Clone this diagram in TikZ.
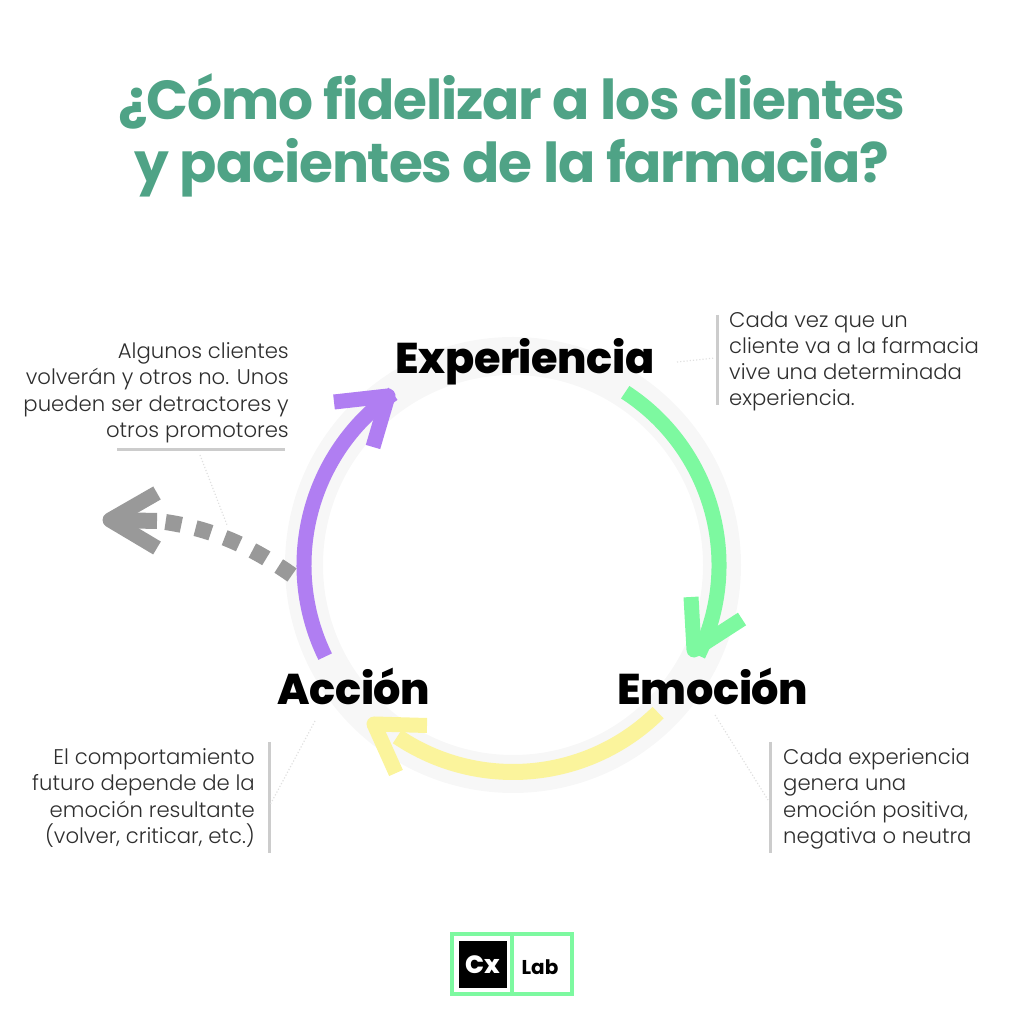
\documentclass[tikz,border=0pt]{standalone}
\usepackage{fontspec}
\setmainfont{Poppins}
\newfontfamily\thinfont{Poppins Light}
\newfontfamily\heavyfont{Poppins ExtraBold}
\definecolor{titlegreen}{HTML}{4FA386}
\definecolor{cxgreen}{HTML}{7DF9A0}
\definecolor{cxpurple}{HTML}{B07EF2}
\definecolor{cxyellow}{HTML}{FBF49C}
\definecolor{cxgrey}{HTML}{999999}
\definecolor{ringgrey}{HTML}{F7F7F7}
\definecolor{bargrey}{HTML}{CCCCCC}
\definecolor{bodygrey}{HTML}{2E2E2E}

\begin{document}
\begin{tikzpicture}[x=1pt,y=1pt,
        title node/.style={inner sep=0,align=center,text=titlegreen,font=\bfseries\addfontfeature{LetterSpace=-2.2}\fontsize{55}{63}\selectfont},
        stage node/.style={inner sep=0,font=\heavyfont\addfontfeature{LetterSpace=-1}\fontsize{43}{48}\selectfont},
        note node/.style={inner sep=0,text=bodygrey,font=\thinfont\fontsize{21.2}{26.2}\selectfont},
        stage arrow/.style={line width=15pt},
        stage head/.style={line width=15pt,line join=round},
        side bar/.style={bargrey,line width=3pt},
        leader/.style={bargrey!60,line width=1.2pt,dotted}]

        \useasboundingbox (0,0) rectangle (1024,1024);
        \coordinate (center) at (513,459);

        \node[title node] (title) at (512,889) {¿Cómo fidelizar a los clientes\\y pacientes de la farmacia?};

        % ring behind the arrows
        \draw[ringgrey,line width=38pt] (center) circle (209);

        % stages
        \coordinate (gbarbA) at (691,427);
        \coordinate (gtip) at (694,374);
        \coordinate (gbarbB) at (742,405);
        \draw[stage arrow,cxgreen] (center) ++(57:206) arc[start angle=57,end angle=-26,radius=206];
        \draw[stage head,cxgreen] (gbarbA) -- (gtip) -- (gbarbB);

        \coordinate (ybarbA) at (427,298.5);
        \coordinate (ytip) at (374,300);
        \coordinate (ybarbB) at (396,251);
        \draw[stage arrow,line width=16pt,cxyellow] (center) ++(-45.5:207) arc[start angle=-45.5,end angle=-124,radius=207];
        \draw[stage head,cxyellow] (ybarbA) -- (ytip) -- (ybarbB);

        \coordinate (pbarbA) at (334,622);
        \coordinate (ptip) at (388,628);
        \coordinate (pbarbB) at (373,577);
        \draw[stage arrow,cxpurple] (center) ++(206:209) arc[start angle=206,end angle=125,radius=209];
        \draw[stage head,cxpurple] (pbarbA) -- (ptip) -- (pbarbB);

        % way out
        \coordinate (outA) at (292,449);
        \coordinate (outB) at (158,503);
        \coordinate (hbarbA) at (157,531);
        \coordinate (htip) at (110,504);
        \coordinate (hbarbB) at (157,476);
        \draw[cxgrey,line width=16pt,dash pattern=on 16pt off 14.6pt] (outA) .. controls (245,482) and (205,497) .. (outB);
        \draw[cxgrey,line width=16pt] (157,503) -- (htip);
        \draw[stage head,cxgrey] (hbarbA) -- (htip) -- (hbarbB);

        \node[stage node] (experiencia) at (525,662) {Experiencia};
        \node[stage node] (accion) at (354,338) {Acción};
        \node[stage node] (emocion) at (713,338) {Emoción};

        % notes
        \node[note node,anchor=north west,align=left] (noteA) at (729,712.5) {Cada vez que un\\cliente va a la farmacia\\vive una determinada\\experiencia.};
        \node[note node,anchor=north east,align=right] (noteB) at (289,681.5) {Algunos clientes\\volverán y otros no. Unos\\pueden ser detractores y\\otros promotores};
        \node[note node,anchor=north east,align=right] (noteC) at (255,275.5) {El comportamiento\\futuro depende de la\\emoción resultante\\(volver, criticar, etc.)};
        \node[note node,anchor=north west,align=left] (noteD) at (783,275.5) {Cada experiencia\\genera una\\emoción positiva,\\negativa o neutra};

        \coordinate (barAt) at (717,709);
        \coordinate (barAb) at (717,619);
        \coordinate (barBl) at (117,574);
        \coordinate (barBr) at (285,574);
        \coordinate (barCt) at (269,282);
        \coordinate (barCb) at (269,171);
        \coordinate (barDt) at (770,282);
        \coordinate (barDb) at (770,171);
        \draw[side bar] (barAt) -- (barAb);
        \draw[side bar] (barBl) -- (barBr);
        \draw[side bar] (barCt) -- (barCb);
        \draw[side bar] (barDt) -- (barDb);

        \coordinate (leadA) at (677,662);
        \coordinate (leadAend) at (715,666);
        \coordinate (leadB) at (200,569);
        \coordinate (leadBend) at (227,499);
        \coordinate (leadC) at (315,303);
        \coordinate (leadCend) at (270,219);
        \coordinate (leadD) at (715,309);
        \coordinate (leadDend) at (768,224);
        \draw[leader] (leadA) -- (leadAend);
        \draw[leader] (leadB) -- (leadBend);
        \draw[leader] (leadC) -- (leadCend);
        \draw[leader] (leadD) -- (leadDend);

        % logo
        \node[draw=cxgreen,line width=4pt,minimum width=60pt,minimum height=60pt,inner sep=0] (lab) at (542,59.5) {};
        \node[draw=cxgreen,line width=4pt,minimum width=60pt,minimum height=60pt,inner sep=0] (cx) at (481.5,59.5) {};
        \node[fill=black,text=white,minimum width=48pt,minimum height=47pt,inner sep=0,font=\heavyfont\fontsize{25}{28}\selectfont] (cxbox) at (482.5,59.5) {Cx};
        \node[inner sep=0,font=\bfseries\fontsize{20}{22}\selectfont] (labtext) at (540,56.5) {Lab};
\end{tikzpicture}
\end{document}
